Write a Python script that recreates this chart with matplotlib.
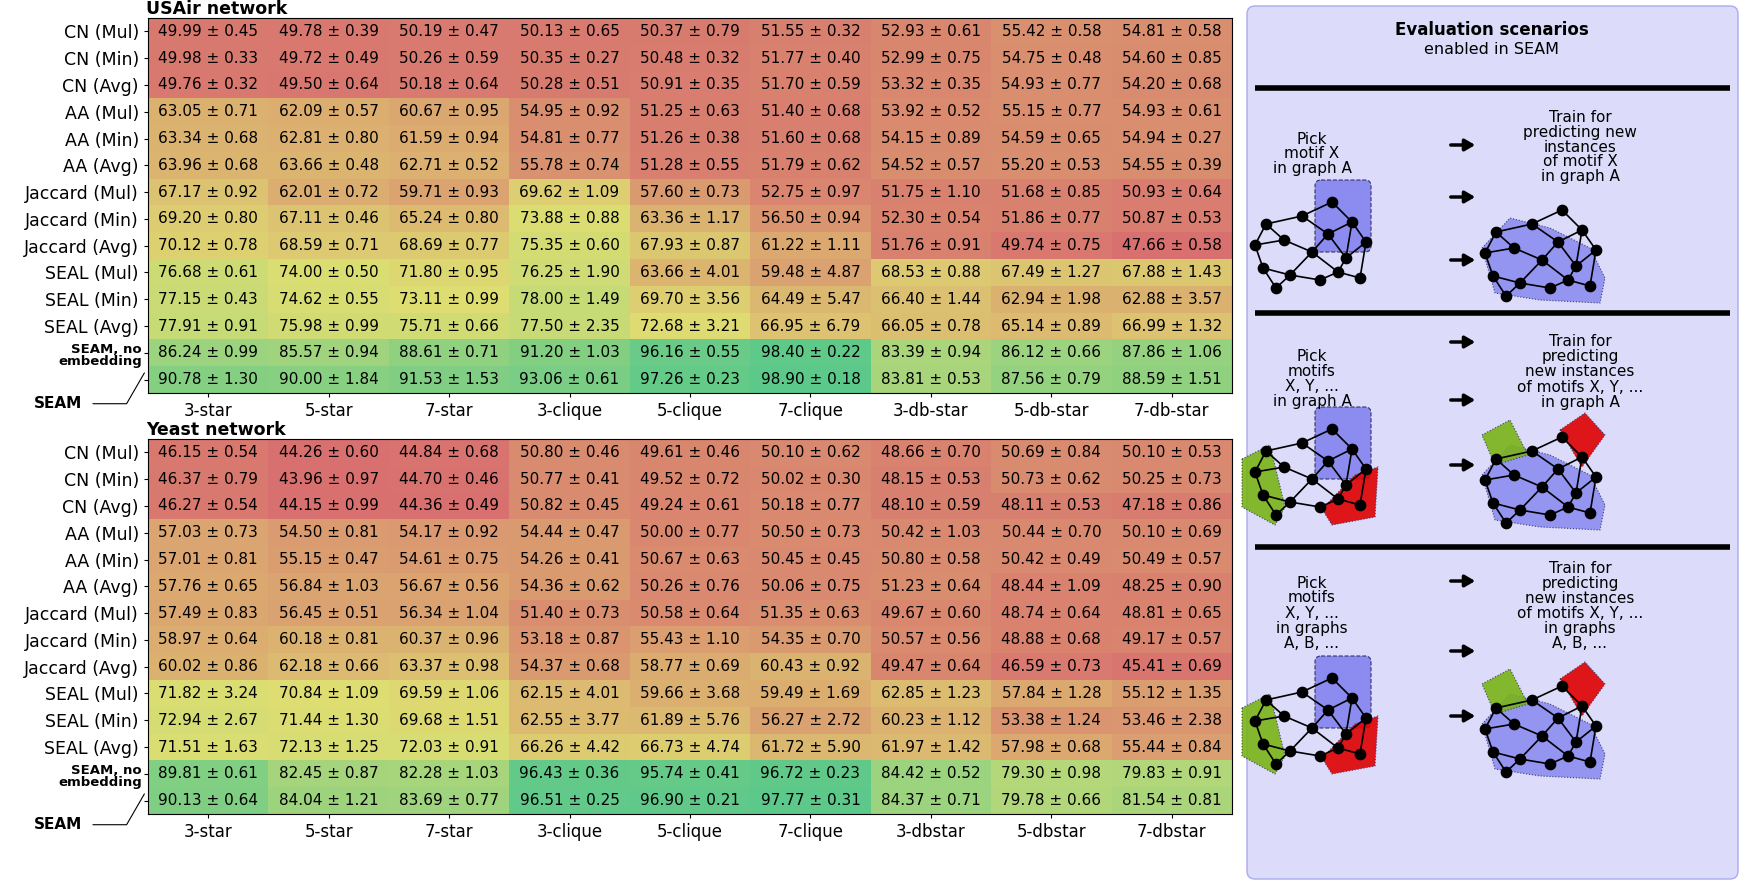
import numpy as np
import matplotlib
matplotlib.use("Agg")
import matplotlib.pyplot as plt
import matplotlib.patches as patches
from matplotlib.colors import LinearSegmentedColormap

rows = ["CN (Mul)", "CN (Min)", "CN (Avg)", "AA (Mul)", "AA (Min)", "AA (Avg)",
        "Jaccard (Mul)", "Jaccard (Min)", "Jaccard (Avg)",
        "SEAL (Mul)", "SEAL (Min)", "SEAL (Avg)", "SEAM, no embedding", "SEAM"]
cols_usair = ["3-star", "5-star", "7-star", "3-clique", "5-clique", "7-clique",
              "3-db-star", "5-db-star", "7-db-star"]
cols_yeast = ["3-star", "5-star", "7-star", "3-clique", "5-clique", "7-clique",
              "3-dbstar", "5-dbstar", "7-dbstar"]

usair_mean = [
    [49.99, 49.78, 50.19, 50.13, 50.37, 51.55, 52.93, 55.42, 54.81],
    [49.98, 49.72, 50.26, 50.35, 50.48, 51.77, 52.99, 54.75, 54.60],
    [49.76, 49.50, 50.18, 50.28, 50.91, 51.70, 53.32, 54.93, 54.20],
    [63.05, 62.09, 60.67, 54.95, 51.25, 51.40, 53.92, 55.15, 54.93],
    [63.34, 62.81, 61.59, 54.81, 51.26, 51.60, 54.15, 54.59, 54.94],
    [63.96, 63.66, 62.71, 55.78, 51.28, 51.79, 54.52, 55.20, 54.55],
    [67.17, 62.01, 59.71, 69.62, 57.60, 52.75, 51.75, 51.68, 50.93],
    [69.20, 67.11, 65.24, 73.88, 63.36, 56.50, 52.30, 51.86, 50.87],
    [70.12, 68.59, 68.69, 75.35, 67.93, 61.22, 51.76, 49.74, 47.66],
    [76.68, 74.00, 71.80, 76.25, 63.66, 59.48, 68.53, 67.49, 67.88],
    [77.15, 74.62, 73.11, 78.00, 69.70, 64.49, 66.40, 62.94, 62.88],
    [77.91, 75.98, 75.71, 77.50, 72.68, 66.95, 66.05, 65.14, 66.99],
    [86.24, 85.57, 88.61, 91.20, 96.16, 98.40, 83.39, 86.12, 87.86],
    [90.78, 90.00, 91.53, 93.06, 97.26, 98.90, 83.81, 87.56, 88.59]]
usair_std = [
    [0.45, 0.39, 0.47, 0.65, 0.79, 0.32, 0.61, 0.58, 0.58],
    [0.33, 0.49, 0.59, 0.27, 0.32, 0.40, 0.75, 0.48, 0.85],
    [0.32, 0.64, 0.64, 0.51, 0.35, 0.59, 0.35, 0.77, 0.68],
    [0.71, 0.57, 0.95, 0.92, 0.63, 0.68, 0.52, 0.77, 0.61],
    [0.68, 0.80, 0.94, 0.77, 0.38, 0.68, 0.89, 0.65, 0.27],
    [0.68, 0.48, 0.52, 0.74, 0.55, 0.62, 0.57, 0.53, 0.39],
    [0.92, 0.72, 0.93, 1.09, 0.73, 0.97, 1.10, 0.85, 0.64],
    [0.80, 0.46, 0.80, 0.88, 1.17, 0.94, 0.54, 0.77, 0.53],
    [0.78, 0.71, 0.77, 0.60, 0.87, 1.11, 0.91, 0.75, 0.58],
    [0.61, 0.50, 0.95, 1.90, 4.01, 4.87, 0.88, 1.27, 1.43],
    [0.43, 0.55, 0.99, 1.49, 3.56, 5.47, 1.44, 1.98, 3.57],
    [0.91, 0.99, 0.66, 2.35, 3.21, 6.79, 0.78, 0.89, 1.32],
    [0.99, 0.94, 0.71, 1.03, 0.55, 0.22, 0.94, 0.66, 1.06],
    [1.30, 1.84, 1.53, 0.61, 0.23, 0.18, 0.53, 0.79, 1.51]]

yeast_mean = [
    [46.15, 44.26, 44.84, 50.80, 49.61, 50.10, 48.66, 50.69, 50.10],
    [46.37, 43.96, 44.70, 50.77, 49.52, 50.02, 48.15, 50.73, 50.25],
    [46.27, 44.15, 44.36, 50.82, 49.24, 50.18, 48.10, 48.11, 47.18],
    [57.03, 54.50, 54.17, 54.44, 50.00, 50.50, 50.42, 50.44, 50.10],
    [57.01, 55.15, 54.61, 54.26, 50.67, 50.45, 50.80, 50.42, 50.49],
    [57.76, 56.84, 56.67, 54.36, 50.26, 50.06, 51.23, 48.44, 48.25],
    [57.49, 56.45, 56.34, 51.40, 50.58, 51.35, 49.67, 48.74, 48.81],
    [58.97, 60.18, 60.37, 53.18, 55.43, 54.35, 50.57, 48.88, 49.17],
    [60.02, 62.18, 63.37, 54.37, 58.77, 60.43, 49.47, 46.59, 45.41],
    [71.82, 70.84, 69.59, 62.15, 59.66, 59.49, 62.85, 57.84, 55.12],
    [72.94, 71.44, 69.68, 62.55, 61.89, 56.27, 60.23, 53.38, 53.46],
    [71.51, 72.13, 72.03, 66.26, 66.73, 61.72, 61.97, 57.98, 55.44],
    [89.81, 82.45, 82.28, 96.43, 95.74, 96.72, 84.42, 79.30, 79.83],
    [90.13, 84.04, 83.69, 96.51, 96.90, 97.77, 84.37, 79.78, 81.54]]
yeast_std = [
    [0.54, 0.60, 0.68, 0.46, 0.46, 0.62, 0.70, 0.84, 0.53],
    [0.79, 0.97, 0.46, 0.41, 0.72, 0.30, 0.53, 0.62, 0.73],
    [0.54, 0.99, 0.49, 0.45, 0.61, 0.77, 0.59, 0.53, 0.86],
    [0.73, 0.81, 0.92, 0.47, 0.77, 0.73, 1.03, 0.70, 0.69],
    [0.81, 0.47, 0.75, 0.41, 0.63, 0.45, 0.58, 0.49, 0.57],
    [0.65, 1.03, 0.56, 0.62, 0.76, 0.75, 0.64, 1.09, 0.90],
    [0.83, 0.51, 1.04, 0.73, 0.64, 0.63, 0.60, 0.64, 0.65],
    [0.64, 0.81, 0.96, 0.87, 1.10, 0.70, 0.56, 0.68, 0.57],
    [0.86, 0.66, 0.98, 0.68, 0.69, 0.92, 0.64, 0.73, 0.69],
    [3.24, 1.09, 1.06, 4.01, 3.68, 1.69, 1.23, 1.28, 1.35],
    [2.67, 1.30, 1.51, 3.77, 5.76, 2.72, 1.12, 1.24, 2.38],
    [1.63, 1.25, 0.91, 4.42, 4.74, 5.90, 1.42, 0.68, 0.84],
    [0.61, 0.87, 1.03, 0.36, 0.41, 0.23, 0.52, 0.98, 0.91],
    [0.64, 1.21, 0.77, 0.25, 0.21, 0.31, 0.71, 0.66, 0.81]]

cmap = LinearSegmentedColormap.from_list("ryg", ["#d8706f", "#dede72", "#5cc98a"])

W, H = 1749, 885
fig = plt.figure(figsize=(W / 100, H / 100), dpi=100)


def heatmap(top, bottom, mean, std, cols, title):
    ax = fig.add_axes([148 / W, 1 - bottom / H, (1232 - 148) / W, (bottom - top) / H])
    m = np.array(mean)
    ax.imshow(m, cmap=cmap, aspect="auto", vmin=m.min(), vmax=m.max())
    for i in range(m.shape[0]):
        for j in range(m.shape[1]):
            ax.text(j, i, f"{mean[i][j]:.2f} ± {std[i][j]:.2f}", ha="center", va="center", fontsize=11)
    ax.set_xticks(range(len(cols)))
    ax.set_xticklabels(cols, fontsize=12)
    ax.set_yticks(range(len(rows)))
    ax.set_yticklabels(rows[:12] + ["", ""], fontsize=12.5)
    ax.tick_params(length=3)
    ax.text(-0.55, 12.1, "SEAM, no\nembedding", ha="right", va="center",
            fontsize=9.5, fontweight="bold", linespacing=0.95, clip_on=False)
    ax.annotate("SEAM", xy=(-0.53, 12.75), xytext=(-1.25, 13.9), textcoords="data",
                ha="center", va="center", fontsize=11, fontweight="bold", annotation_clip=False,
                arrowprops=dict(arrowstyle="-", lw=0.8, color="black", shrinkA=6, shrinkB=0,
                                connectionstyle="angle,angleA=0,angleB=60,rad=0"))
    ax.set_title(title, loc="left", fontsize=12.5, fontweight="bold", pad=2, x=-0.002)
    return ax


heatmap(18, 393, usair_mean, usair_std, cols_usair, "USAir network")
heatmap(439, 814, yeast_mean, yeast_std, cols_yeast, "Yeast network")

# right panel drawn in pixel coordinates
ov = fig.add_axes([0, 0, 1, 1])
ov.set_xlim(0, W)
ov.set_ylim(H, 0)
ov.axis("off")
ov.add_patch(patches.FancyBboxPatch((1247, 6), 491, 873, boxstyle="round,pad=0,rounding_size=8",
                                    facecolor="#dcdcfa", edgecolor="#aaaaee", lw=1))
ov.text(1492, 30, "Evaluation scenarios", ha="center", va="center", fontsize=12, fontweight="bold")
ov.text(1492, 50, "enabled in SEAM", ha="center", va="center", fontsize=11.5)
for y in (88, 313, 547):
    ov.plot([1255, 1730], [y, y], color="black", lw=4, solid_capstyle="butt")

nodes = [(-55, 5), (-44, -16), (-47, 28), (-26, 0), (-20, 35), (-8, -24), (2, 12), (10, 40),
         (18, -6), (22, -38), (36, 18), (42, -18), (50, 38), (56, 2), (28, 32), (-34, 48)]
edges = [(0, 1), (0, 2), (0, 3), (1, 5), (1, 3), (2, 4), (2, 15), (3, 6), (4, 6), (4, 7), (5, 8),
         (5, 9), (6, 8), (6, 14), (7, 14), (8, 11), (9, 11), (10, 11), (10, 13), (10, 14), (11, 13),
         (12, 14), (12, 13), (15, 4), (8, 10)]


def graph(cx, cy):
    for a, b in edges:
        ov.plot([cx + nodes[a][0], cx + nodes[b][0]], [cy + nodes[a][1], cy + nodes[b][1]],
                color="black", lw=1.2, zorder=3)
    ov.scatter([cx + x for x, y in nodes], [cy + y for x, y in nodes], s=55, color="black", zorder=4)


def blob(cx, cy, pts, color):
    ov.add_patch(patches.Polygon([(cx + x, cy + y) for x, y in pts], closed=True, facecolor=color,
                                 edgecolor="#333366", lw=0.8, ls=":", alpha=0.9, zorder=2,
                                 joinstyle="round"))


blue, green, red = "#8c8cf0", "#7ab317", "#e00000"
sections = [
    (92, "Pick\nmotif X\nin graph A", "Train for\npredicting new\ninstances\nof motif X\nin graph A",
     1, (53, 105, 168), 148),
    (317, "Pick\nmotifs\nX, Y, ...\nin graph A", "Train for\npredicting\nnew instances\nof motifs X, Y, ...\nin graph A",
     3, (25, 83, 148), 150),
    (551, "Pick\nmotifs\nX, Y, ...\nin graphs\nA, B, ...", "Train for\npredicting\nnew instances\nof motifs X, Y, ...\nin graphs\nA, B, ...",
     3, (30, 100, 165), 165)]
for top, ltxt, rtxt, k, arrows, gdy in sections:
    ov.text(1312, top + 62, ltxt, ha="center", va="center", fontsize=11, linespacing=1.0)
    ov.text(1580, top + 55, rtxt, ha="center", va="center", fontsize=11, linespacing=1.0)
    for dy in arrows:
        ov.annotate("", xy=(1478, top + dy), xytext=(1448, top + dy),
                    arrowprops=dict(arrowstyle="-|>,head_width=0.35,head_length=0.6", lw=2.5, color="black"))
    lx, ly, rx, ry = 1310, top + gdy, 1540, top + gdy + 8
    ov.add_patch(patches.FancyBboxPatch((lx + 5, ly - 60), 56, 72, boxstyle="round,pad=0,rounding_size=6",
                                        facecolor=blue, edgecolor="#333366", lw=0.8, ls="--", zorder=2))
    blob(rx, ry, [(-58, 0), (-30, -30), (10, -20), (50, 0), (65, 30), (60, 55), (0, 52), (-45, 45)], blue)
    if k == 3:
        blob(lx, ly, [(-68, -8), (-40, -22), (-25, 40), (-35, 58), (-68, 40)], green)
        blob(lx, ly, [(12, 42), (45, 8), (68, 0), (65, 50), (22, 58)], red)
        blob(rx, ry, [(-58, -40), (-30, -55), (-12, -20), (-45, -10)], green)
        blob(rx, ry, [(20, -45), (45, -62), (65, -40), (42, -8)], red)
    graph(lx, ly)
    graph(rx, ry)

fig.savefig("out.png", dpi=100)
